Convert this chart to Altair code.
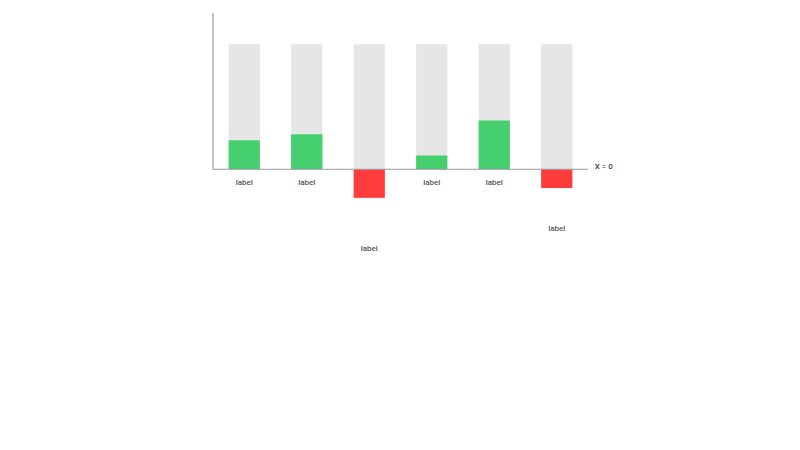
import altair as alt
import pandas as pd

categories = ["a", "b", "c", "d", "e", "f"]
values = [23.2, 28.0, -22.9, 11.0, 39.0, -15.0]
labels = ["label"] * 6
track_max = [100] * 6

df = pd.DataFrame({"cat": categories, "value": values, "label": labels, "track": track_max})

W, H = 375, 300
ydom = [-115, 125]
FONT = "Roboto"

xenc = alt.X("cat:N", axis=None, sort=categories,
             scale=alt.Scale(paddingInner=0.5, paddingOuter=0.25))
yscale = alt.Scale(domain=ydom, nice=False, zero=False)

base = alt.Chart(df)

track = base.mark_bar(color="#e6e6e6").encode(
    x=xenc,
    y=alt.Y("track:Q", scale=yscale, axis=None),
    y2=alt.datum(0),
)

bars = base.mark_bar().encode(
    x=xenc,
    y=alt.Y("value:Q", scale=yscale, axis=None),
    y2=alt.datum(0),
    color=alt.condition("datum.value >= 0", alt.value("#46cf6e"), alt.value("#ff3c3c")),
)

text = base.transform_calculate(
    ly="datum.value >= 0 ? -11 : 2 * datum.value - 18"
).mark_text(fontSize=8, font=FONT, fontWeight=500, color="#555555", baseline="middle").encode(
    x=xenc,
    y=alt.Y("ly:Q", scale=yscale, axis=None),
    text="label:N",
)

rule_df = pd.DataFrame({"y0": [0], "y1": [125]})
yaxis_rule = alt.Chart(rule_df).mark_rule(color="#888888", strokeWidth=1).encode(
    x=alt.value(0),
    y=alt.Y("y0:Q", scale=yscale, axis=None),
    y2="y1:Q",
)
baseline = alt.Chart(rule_df).mark_rule(color="#999999", strokeWidth=1).encode(
    x=alt.value(0),
    x2=alt.value(W),
    y=alt.Y("y0:Q", scale=yscale, axis=None),
)

zero_df = pd.DataFrame({"cat": [categories[-1]], "y0": [0], "t": ["X = 0"]})
zero_label = alt.Chart(zero_df).mark_text(
    fontSize=8, font=FONT, fontWeight=500, color="#444444", align="left", baseline="middle", dx=38, dy=-2
).encode(
    x=xenc,
    y=alt.Y("y0:Q", scale=yscale, axis=None),
    text="t:N",
)

chart = alt.layer(track, bars, text, baseline, yaxis_rule, zero_label).properties(
    width=W, height=H,
    padding={"left": 205, "top": 5, "right": 60, "bottom": 0},
    autosize=alt.AutoSizeParams(type="none"),
).configure_view(stroke=None)

chart.save("out.html", embed_options={"renderer": "svg", "actions": False})
